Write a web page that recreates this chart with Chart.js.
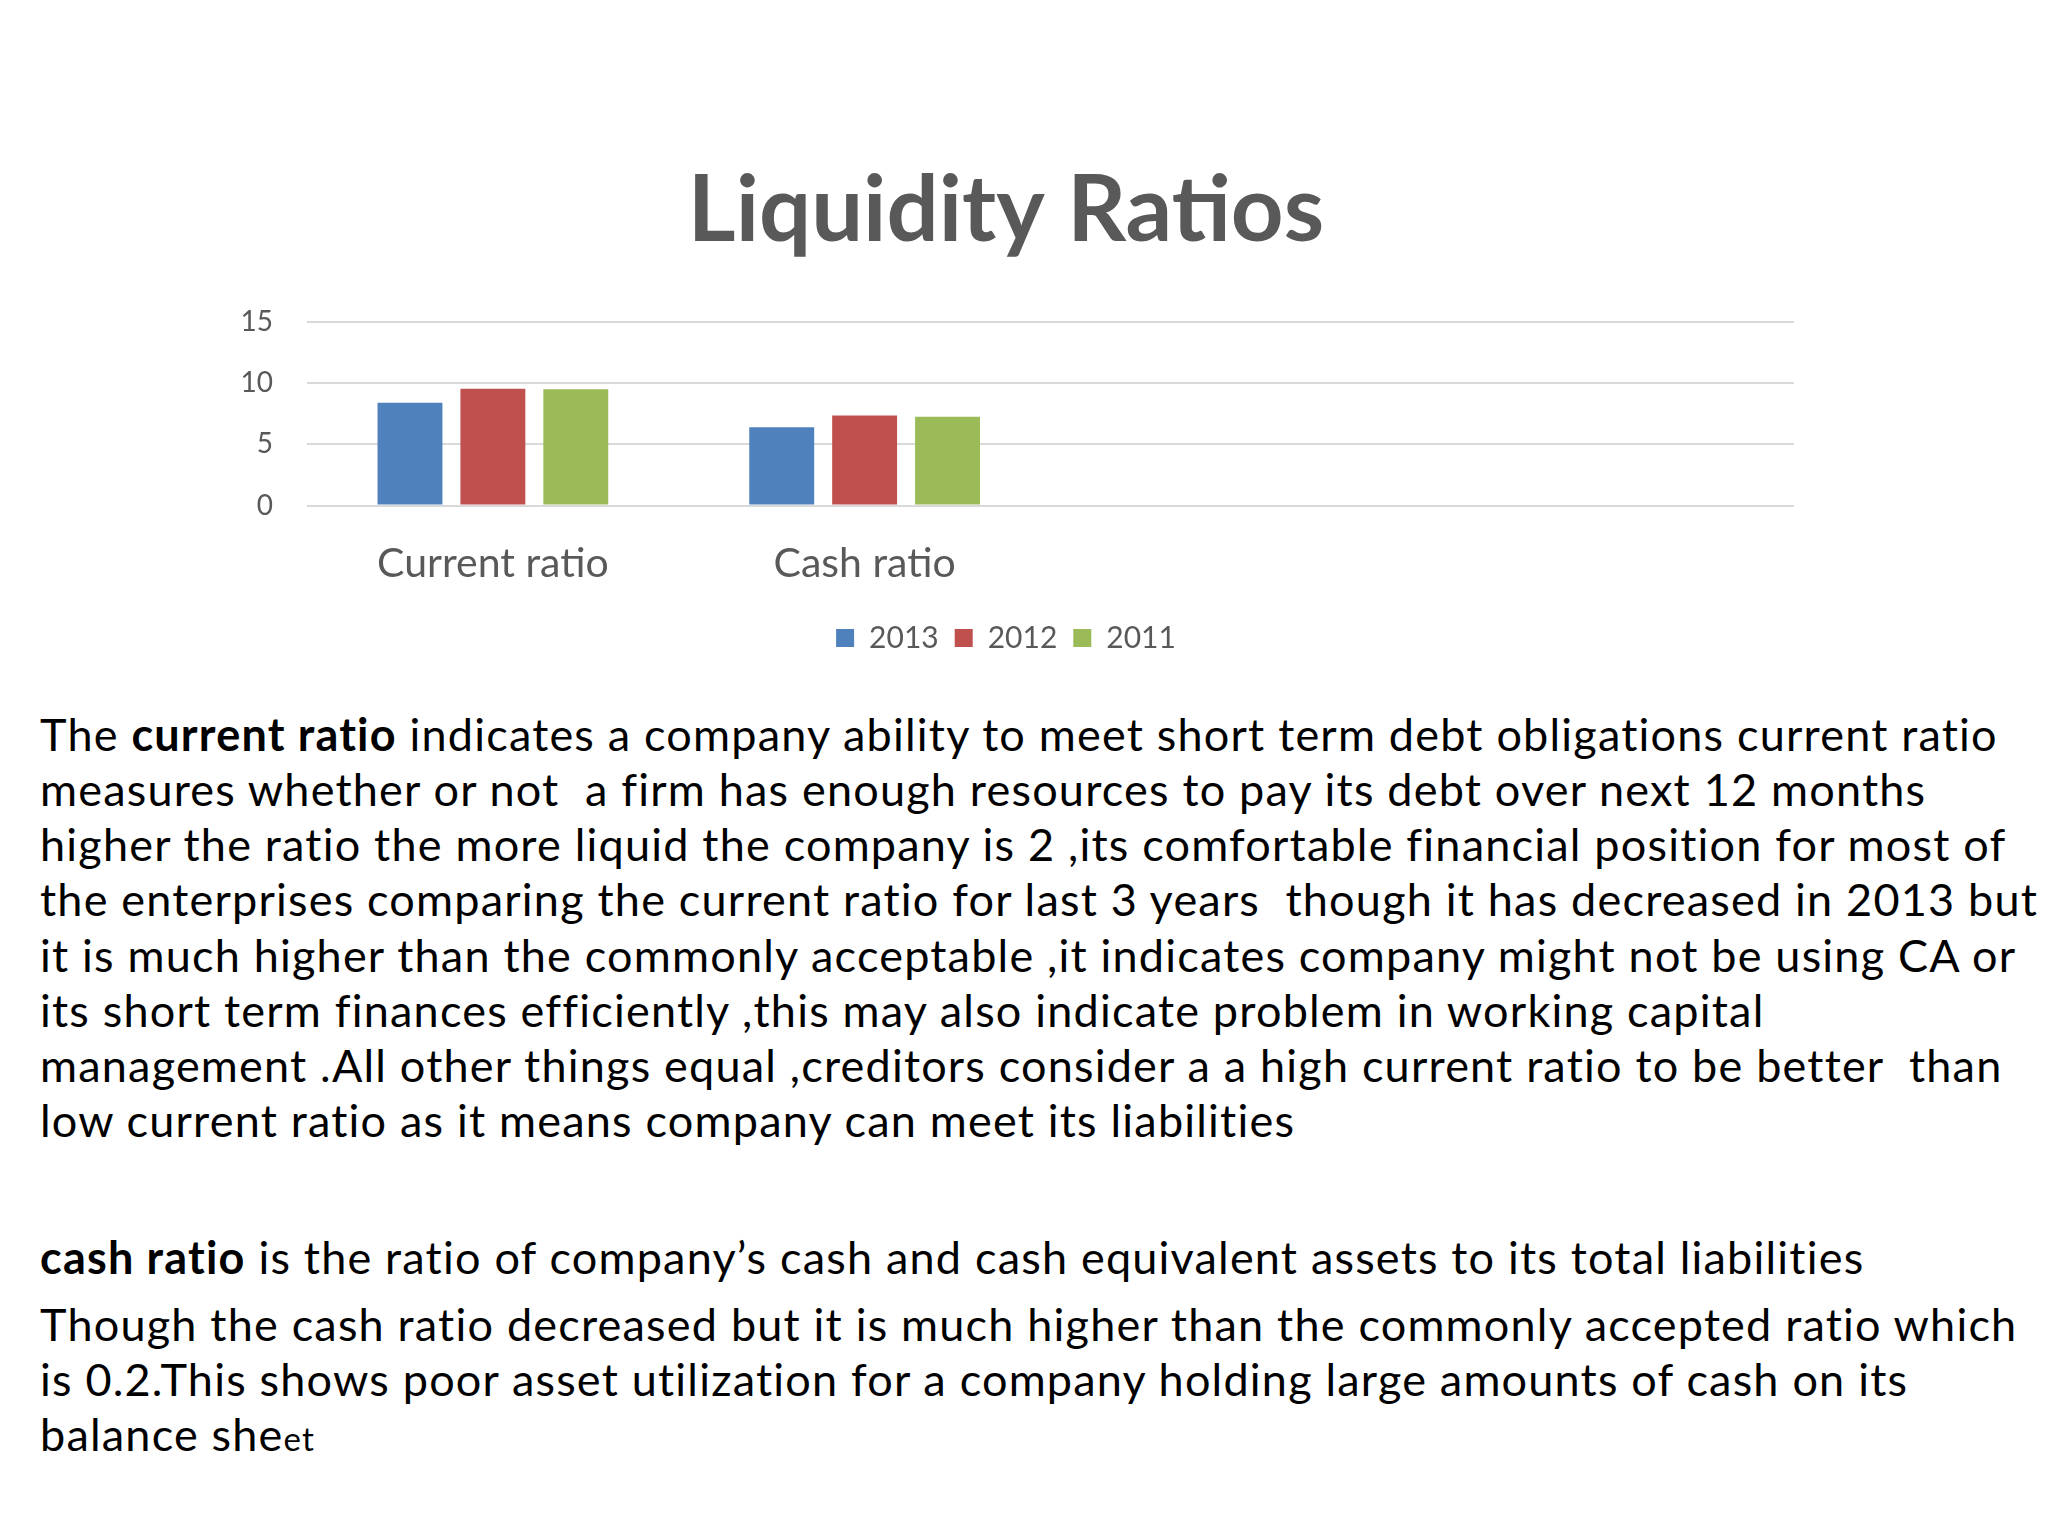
<!DOCTYPE html>
<html>
<head>
<meta charset="utf-8">
<script src="https://cdn.jsdelivr.net/npm/chart.js@4.4.1/dist/chart.umd.min.js"></script>
<style>
  html, body { margin: 0; padding: 0; background: #ffffff; width: 2048px; height: 1536px; overflow: hidden; }
  #chart { position: absolute; left: 0; top: 0; }
  .ln { position: absolute; left: 40px; white-space: pre; font-family: Lato, "Open Sans", sans-serif; font-size: 45px; letter-spacing: 1.2px; line-height: 55.2px; color: #000; }
  .ln b { font-weight: bold; }
  .sm { font-size: 33px; }
</style>
</head>
<body>
<canvas id="chart" width="2048" height="663"></canvas>
<div id="text"></div>
<script>
// ---- data ----
const categories = ['Current ratio', 'Cash ratio', '', ''];
const series2013 = [8.4, 6.4];
const series2012 = [9.55, 7.35];
const series2011 = [9.5, 7.25];
const seriesNames = ['2013', '2012', '2011'];
const yTicks = [0, 5, 10, 15];
const chartTitle = 'Liquidity Ratios';

const colors = ['#4f81bd', '#c0504d', '#9bbb59'];
const grey = '#595959';

new Chart(document.getElementById('chart'), {
  type: 'bar',
  data: {
    labels: categories,
    datasets: [series2013, series2012, series2011].map((d, i) => ({
      label: seriesNames[i],
      data: d,
      backgroundColor: colors[i],
      borderWidth: 0,
      categoryPercentage: 0.669,
      barPercentage: 0.783
    }))
  },
  options: {
    responsive: false,
    devicePixelRatio: 1,
    animation: false,
    layout: { padding: { left: 218, right: 254, top: 0, bottom: 0 } },
    plugins: {
      tooltip: { enabled: false },
      title: {
        display: true,
        text: chartTitle,
        color: grey,
        font: { family: 'Lato', size: 92, weight: 'bold', lineHeight: 1 },
        padding: { top: 165.4, bottom: 64.6 }
      },
      legend: {
        position: 'bottom',
        labels: {
          color: grey,
          font: { family: 'Lato', size: 30 },
          boxWidth: 18,
          boxHeight: 18,
          padding: 16
        }
      }
    },
    scales: {
      x: {
        grid: { display: false },
        border: { display: false },
        ticks: {
          color: grey,
          font: { family: 'Lato', size: 41, lineHeight: 1.2 },
          padding: 26,
          autoSkip: false,
          maxRotation: 0
        },
        afterFit: s => { s.height = 101.5; }
      },
      y: {
        min: 0,
        max: 15,
        afterBuildTicks: s => { s.ticks = yTicks.map(v => ({ value: v })); },
        grid: { color: '#d9d9d9', lineWidth: 2, drawTicks: false },
        border: { display: false },
        ticks: {
          color: grey,
          font: { family: 'Lato', size: 28 },
          padding: 34
        },
        afterFit: s => { s.width = 89; }
      }
    }
  }
});

// ---- paragraph text ----
const para1 = [
  'The <b>current ratio</b> indicates a company ability to meet short term debt obligations current ratio',
  'measures whether or not  a firm has enough resources to pay its debt over next 12 months',
  'higher the ratio the more liquid the company is 2 ,its comfortable financial position for most of',
  'the enterprises comparing the current ratio for last 3 years  though it has decreased in 2013 but',
  'it is much higher than the commonly acceptable ,it indicates company might not be using CA or',
  'its short term finances efficiently ,this may also indicate problem in working capital',
  'management .All other things equal ,creditors consider a a high current ratio to be better  than',
  'low current ratio as it means company can meet its liabilities'
];
const para2 = [
  '<b>cash ratio</b> is the ratio of company’s cash and cash equivalent assets to its total liabilities'
];
const para3 = [
  'Though the cash ratio decreased but it is much higher than the commonly accepted ratio which',
  'is 0.2.This shows poor asset utilization for a company holding large amounts of cash on its',
  'balance she<span class="sm">et</span>'
];
const holder = document.getElementById('text');
function addLines(lines, firstTop, pitch) {
  lines.forEach((t, i) => {
    const d = document.createElement('div');
    d.className = 'ln';
    d.style.top = (firstTop + i * pitch) + 'px';
    d.innerHTML = t;
    holder.appendChild(d);
  });
}
addLines(para1, 706.7, 55.2);
addLines(para2, 1230, 55);
addLines(para3, 1296.7, 55);
</script>
</body>
</html>
